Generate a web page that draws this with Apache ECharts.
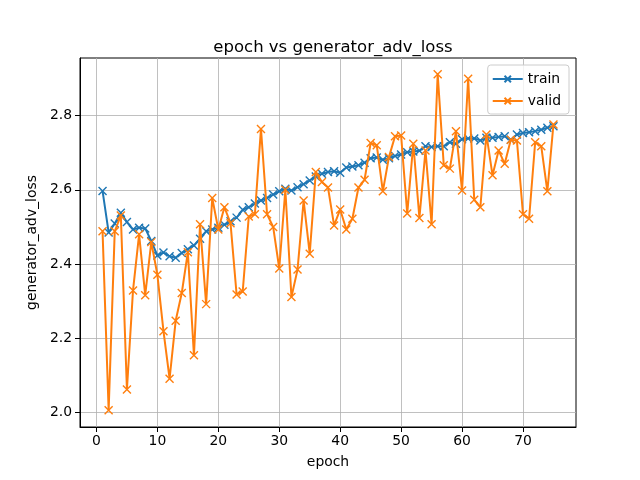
<!DOCTYPE html>
<html>
<head>
<meta charset="utf-8">
<script src="https://cdn.jsdelivr.net/npm/echarts@6/dist/echarts.min.js"></script>
<style>html,body{margin:0;padding:0;background:#fff;}#c{width:640px;height:480px;}</style>
</head>
<body>
<div id="c"></div>
<script>
var epochs = [1,2,3,4,5,6,7,8,9,10,11,12,13,14,15,16,17,18,19,20,21,22,23,24,25,26,27,28,29,30,31,32,33,34,35,36,37,38,39,40,41,42,43,44,45,46,47,48,49,50,51,52,53,54,55,56,57,58,59,60,61,62,63,64,65,66,67,68,69,70,71,72,73,74,75];
var train = [2.597,2.485,2.509,2.538,2.513,2.493,2.498,2.496,2.462,2.423,
             2.431,2.421,2.417,2.430,2.440,2.450,2.468,2.488,2.493,2.498,
             2.506,2.515,2.525,2.546,2.553,2.563,2.571,2.578,2.587,2.596,
             2.603,2.598,2.607,2.615,2.625,2.636,2.643,2.648,2.650,2.646,
             2.660,2.663,2.666,2.673,2.685,2.687,2.681,2.685,2.691,2.695,
             2.701,2.703,2.705,2.717,2.715,2.717,2.717,2.728,2.724,2.736,
             2.738,2.738,2.733,2.740,2.740,2.742,2.744,2.735,2.749,2.753,
             2.755,2.758,2.762,2.767,2.771];
var valid = [2.488,2.006,2.488,2.531,2.062,2.329,2.480,2.316,2.459,2.371,
             2.219,2.091,2.247,2.322,2.432,2.154,2.507,2.292,2.578,2.493,
             2.553,2.510,2.318,2.326,2.528,2.534,2.764,2.534,2.500,2.388,
             2.600,2.311,2.385,2.571,2.428,2.648,2.621,2.606,2.504,2.547,
             2.493,2.522,2.606,2.627,2.726,2.720,2.596,2.688,2.744,2.746,
             2.536,2.724,2.524,2.706,2.507,2.911,2.666,2.657,2.758,2.598,
             2.899,2.573,2.553,2.749,2.639,2.706,2.670,2.735,2.733,2.534,
             2.522,2.728,2.717,2.596,2.776];
var xTicks = [0,10,20,30,40,50,60,70];
var yTicks = [2.0,2.2,2.4,2.6,2.8];

function pairs(vals){ return epochs.map(function(e,i){ return [e, vals[i]]; }); }
var font = 'DejaVu Sans';
var xSym = 'path://M0,0L10,10M10,0L0,10';

var chart = echarts.init(document.getElementById('c'), null, {renderer:'canvas'});
chart.setOption({
  animation: false,
  backgroundColor: '#fff',
  textStyle: {fontFamily: font},
  title: {
    text: 'epoch vs generator_adv_loss',
    left: 328, top: 34, textAlign: 'center',
    textStyle: {fontFamily: font, fontSize: 16.5, fontWeight: 'normal', color: '#000'}
  },
  legend: {
    right: 71, top: 65, orient: 'vertical',
    itemWidth: 30, itemHeight: 8, itemGap: 8,
    padding: [7, 8, 6, 4],
    borderColor: '#cccccc', borderWidth: 1, borderRadius: 3,
    backgroundColor: 'rgba(255,255,255,0.8)',
    textStyle: {fontFamily: font, fontSize: 13.9, color: '#000'},
    data: ['train', 'valid']
  },
  grid: {
    left: 80, right: 64, top: 58, bottom: 53,
    show: true, borderColor: '#000', borderWidth: 1, backgroundColor: 'transparent'
  },
  xAxis: {
    type: 'value', min: -2.7, max: 78.7,
    name: 'epoch', nameLocation: 'middle', nameGap: 28,
    nameTextStyle: {fontFamily: font, fontSize: 13.9, color: '#000'},
    axisLine: {show: true, onZero: false, lineStyle: {color: '#000', width: 1}},
    axisTick: {show: true, length: 5, customValues: xTicks, lineStyle: {color: '#000', width: 1}},
    axisLabel: {customValues: xTicks, fontFamily: font, fontSize: 13.9, color: '#000', margin: 7},
    splitLine: {show: true, lineStyle: {color: '#b0b0b0', width: 0.8}}
  },
  yAxis: {
    type: 'value', min: 1.961, max: 2.955,
    name: 'generator_adv_loss', nameLocation: 'middle', nameGap: 37,
    nameTextStyle: {fontFamily: font, fontSize: 13.9, color: '#000'},
    axisLine: {show: true, onZero: false, lineStyle: {color: '#000', width: 1}},
    axisTick: {show: true, length: 5, customValues: yTicks, lineStyle: {color: '#000', width: 1}},
    axisLabel: {customValues: yTicks, fontFamily: font, fontSize: 13.9, color: '#000', margin: 8,
      formatter: function(v){ return v.toFixed(1); }},
    splitLine: {show: true, lineStyle: {color: '#b0b0b0', width: 0.8}}
  },
  series: [
    {
      name: 'train', type: 'line', data: pairs(train),
      symbol: xSym, symbolSize: 8, showAllSymbol: true,
      lineStyle: {color: '#1f77b4', width: 2},
      itemStyle: {color: '#1f77b4', borderColor: '#1f77b4', borderWidth: 1.4},
      z: 2
    },
    {
      name: 'valid', type: 'line', data: pairs(valid),
      symbol: xSym, symbolSize: 8, showAllSymbol: true,
      lineStyle: {color: '#ff7f0e', width: 2},
      itemStyle: {color: '#ff7f0e', borderColor: '#ff7f0e', borderWidth: 1.4},
      z: 3
    }
  ]
});
</script>
</body>
</html>
